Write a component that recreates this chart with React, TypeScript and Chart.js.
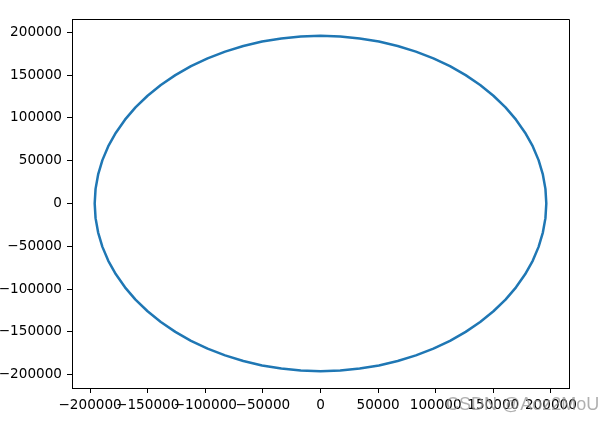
import React, { useEffect, useRef } from "react";
import { Chart, registerables } from "chart.js";

Chart.register(...registerables);

// Orbit points (every ~5 degrees)
const orbitX = [
  196000, 195250, 193000, 189300, 184200, 177600, 169700, 160600, 150100, 138600,
  126000, 112400, 98000, 82800, 67000, 50700, 34000, 17100, 0,
  -17100, -34000, -50700, -67000, -82800, -98000, -112400, -126000, -138600,
  -150100, -160600, -169700, -177600, -184200, -189300, -193000, -195250, -196000,
  -195250, -193000, -189300, -184200, -177600, -169700, -160600, -150100, -138600,
  -126000, -112400, -98000, -82800, -67000, -50700, -34000, -17100, 0,
  17100, 34000, 50700, 67000, 82800, 98000, 112400, 126000, 138600,
  150100, 160600, 169700, 177600, 184200, 189300, 193000, 195250, 196000,
];
const orbitY = [
  0, 17100, 34000, 50700, 67000, 82800, 98000, 112400, 126000, 138600,
  150100, 160600, 169700, 177600, 184200, 189300, 193000, 195250, 196000,
  195250, 193000, 189300, 184200, 177600, 169700, 160600, 150100, 138600,
  126000, 112400, 98000, 82800, 67000, 50700, 34000, 17100, 0,
  -17100, -34000, -50700, -67000, -82800, -98000, -112400, -126000, -138600,
  -150100, -160600, -169700, -177600, -184200, -189300, -193000, -195250, -196000,
  -195250, -193000, -189300, -184200, -177600, -169700, -160600, -150100, -138600,
  -126000, -112400, -98000, -82800, -67000, -50700, -34000, -17100, 0,
];

const xTicks = [-200000, -150000, -100000, -50000, 0, 50000, 100000, 150000, 200000];
const yTicks = [-200000, -150000, -100000, -50000, 0, 50000, 100000, 150000, 200000];
const axisMin = -215700;
const axisMax = 215700;

const fmt = (v: number) => (v < 0 ? "\u2212" : "") + String(Math.abs(v));

export default function App() {
  const ref = useRef<HTMLCanvasElement | null>(null);
  useEffect(() => {
    if (!ref.current) return;
    const font = { family: "DejaVu Sans", size: 13.6 };
    const chart = new Chart(ref.current, {
      type: "scatter",
      data: {
        datasets: [
          {
            data: orbitX.map((x, i) => ({ x, y: orbitY[i] })),
            showLine: true,
            borderColor: "#1f77b4",
            borderWidth: 2.5,
            borderJoinStyle: "round",
            pointRadius: 0,
            tension: 0,
            fill: false,
          },
        ],
      },
      options: {
        animation: false,
        responsive: false,
        layout: { padding: { top: 19, right: 47, left: 0, bottom: 0 } },
        plugins: { legend: { display: false }, tooltip: { enabled: false } },
        scales: {
          x: {
            type: "linear",
            min: axisMin,
            max: axisMax,
            afterBuildTicks: (axis: any) => {
              axis.ticks = xTicks.map((v) => ({ value: v }));
            },
            afterFit: (axis: any) => {
              axis.height = 33;
            },
            grid: { drawOnChartArea: false, drawTicks: true, tickLength: 5, color: "#000" },
            border: { color: "#000", width: 1 },
            ticks: { color: "#000", font, padding: 4, maxRotation: 0, autoSkip: false, callback: (v: any) => fmt(Number(v)) },
          },
          y: {
            type: "linear",
            min: axisMin,
            max: axisMax,
            afterBuildTicks: (axis: any) => {
              axis.ticks = yTicks.map((v) => ({ value: v }));
            },
            afterFit: (axis: any) => {
              axis.width = 72;
            },
            grid: { drawOnChartArea: false, drawTicks: true, tickLength: 5, color: "#000" },
            border: { color: "#000", width: 1 },
            ticks: { color: "#000", font, padding: 5, autoSkip: false, callback: (v: any) => fmt(Number(v)) },
          },
        },
      },
      plugins: [
        {
          id: "rightTopBorder",
          afterDraw: (c: any) => {
            const { left, right, top, bottom } = c.chartArea;
            const ctx = c.ctx;
            ctx.save();
            ctx.strokeStyle = "#000";
            ctx.lineWidth = 1;
            ctx.beginPath();
            ctx.moveTo(left, top + 0.5);
            ctx.lineTo(right + 0.5, top + 0.5);
            ctx.lineTo(right + 0.5, bottom);
            ctx.stroke();
            ctx.restore();
          },
        },
      ],
    } as any);
    return () => chart.destroy();
  }, []);
  return (
    <div style={{ position: "fixed", left: 0, top: 0, width: 616, height: 421, background: "#fff" }}>
      <canvas ref={ref} width={616} height={421} style={{ display: "block" }} />
      <span
        style={{
          position: "absolute",
          left: 446,
          top: 394,
          fontFamily: "Liberation Sans",
          fontSize: 18,
          color: "rgba(150,150,150,0.75)",
          whiteSpace: "nowrap",
        }}
      >
        CSDN @Aoz2MoU
      </span>
    </div>
  );
}
